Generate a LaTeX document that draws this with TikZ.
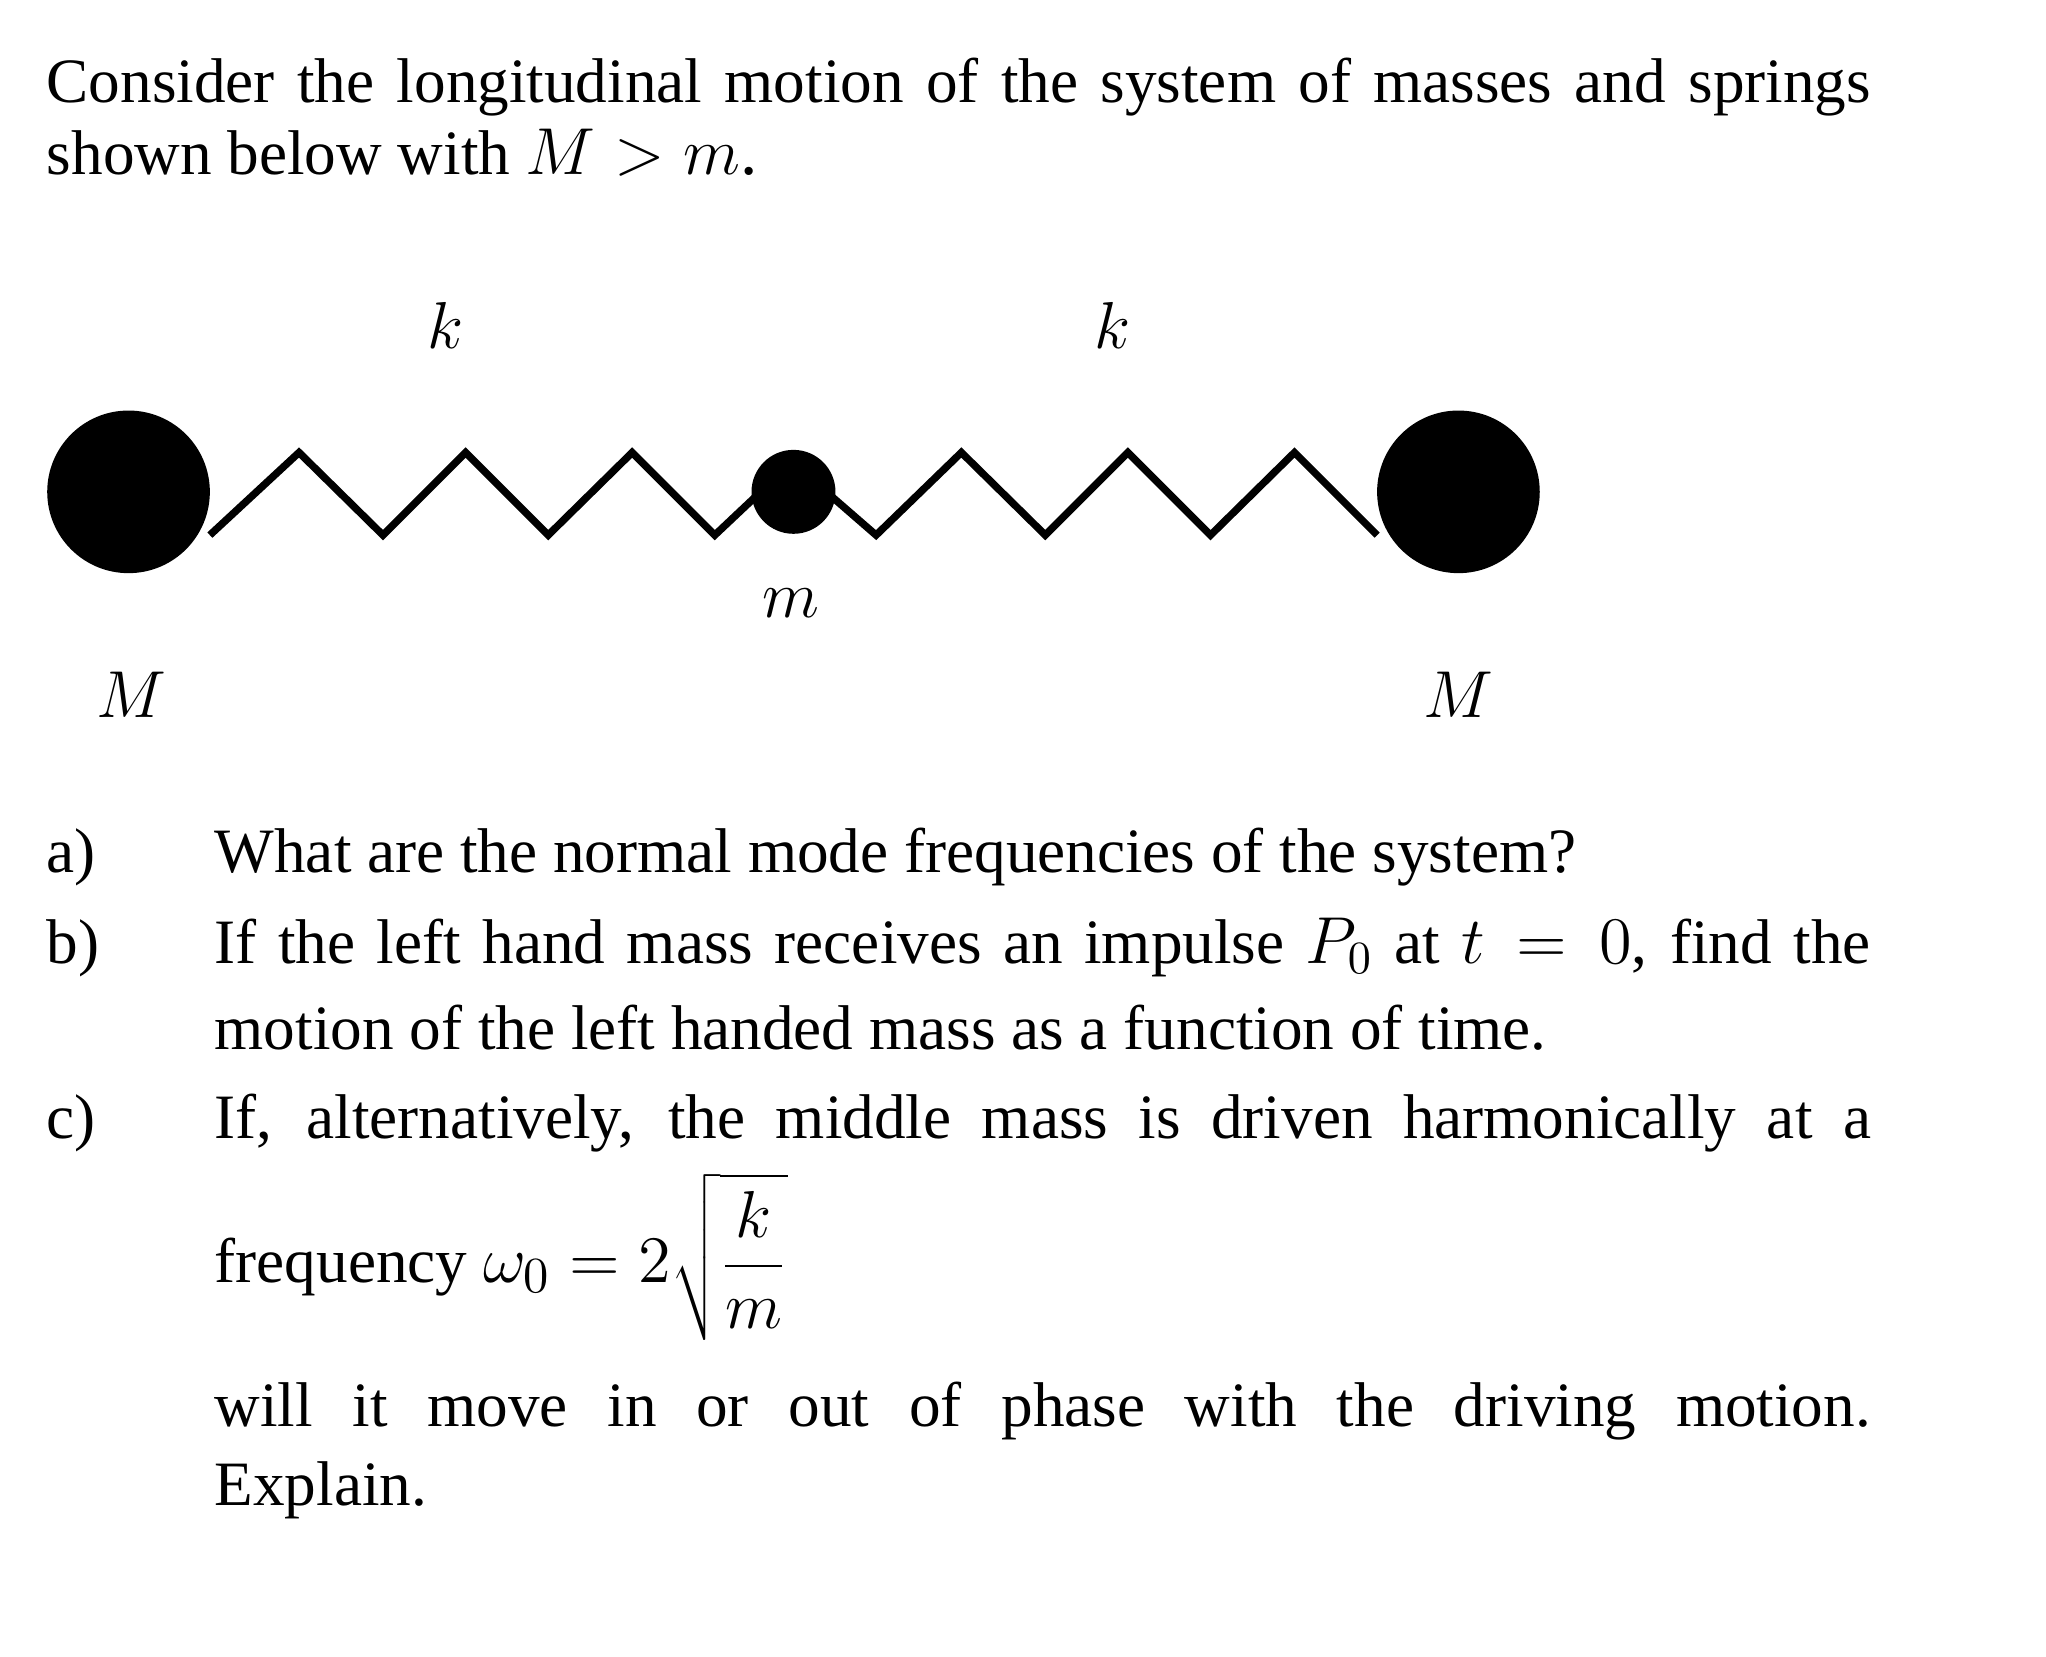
\documentclass[tikz,border=0pt]{standalone}
\usepackage{fontspec}
\setmainfont{Liberation Serif}
\begin{document}
\begin{tikzpicture}[x=0.01cm,y=-0.01cm,
  txt/.style={anchor=base west,inner sep=0,font=\fontsize{13.7}{18.4}\selectfont},
  lab/.style={inner sep=0,font=\fontsize{15}{18}\selectfont},
  spr/.style={line width=1.6pt,line join=miter}]
\useasboundingbox[fill=white] (0,0) rectangle (1560,1263);
\node[txt] (l1) at (35,78) {\makebox[13.9cm][s]{Consider the longitudinal motion of the system of masses and springs}};
\node[txt] (l2) at (35,133) {shown below with \fontsize{15}{18}\selectfont$M>m$.};
\node[lab] (k1) at (340,248) {$k$};
\node[lab] (k2) at (848,248) {$k$};
\fill (98,375) circle (62);
\fill (605,375) circle (32);
\fill (1112,375) circle (62);
\draw[spr] (160,408) -- (228,345) -- (292,408) -- (355,345) -- (418,408) -- (482,345) -- (545,408) -- (580,375);
\draw[spr] (630,375) -- (668,408) -- (733,345) -- (797,408) -- (860,345) -- (923,408) -- (987,345) -- (1050,408);
\node[lab] (m) at (603,460) {$m$};
\node[lab] (M1) at (100,530) {$M$};
\node[lab] (M2) at (1112,530) {$M$};
\node[txt] (a) at (35,665) {a)};
\node[txt] (at) at (163,665) {What are the normal mode frequencies of the system?};
\node[txt] (b) at (35,735) {b)};
\node[txt] (bt) at (163,735) {\makebox[12.62cm][s]{If the left hand mass receives an impulse $P_0$ at $t=0$, find the}};
\node[txt] (bt2) at (163,800) {motion of the left handed mass as a function of time.};
\node[txt] (c) at (35,868) {c)};
\node[txt] (ct) at (163,868) {\makebox[12.62cm][s]{If, alternatively, the middle mass is driven harmonically at a}};
\node[txt] (ct2) at (163,978) {frequency \fontsize{15}{18}\selectfont$\omega_0=2\sqrt{\displaystyle\frac{k}{m}}$};
\node[txt] (ct3) at (163,1088) {\makebox[12.62cm][s]{will it move in or out of phase with the driving motion.}};
\node[txt] (ct4) at (163,1148) {Explain.};
\end{tikzpicture}
\end{document}
